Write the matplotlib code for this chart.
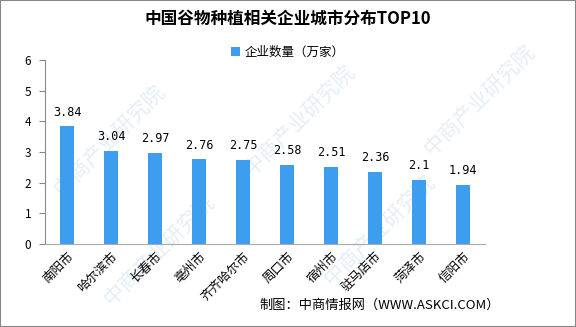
import matplotlib
matplotlib.use("Agg")
import matplotlib.pyplot as plt
from matplotlib.patches import Rectangle

plt.rcParams['font.family'] = ['Noto Sans CJK SC', 'DejaVu Sans']

cities = ['南阳市', '哈尔滨市', '长春市', '亳州市', '齐齐哈尔市',
          '周口市', '宿州市', '驻马店市', '菏泽市', '信阳市']
counts = [3.84, 3.04, 2.97, 2.76, 2.75, 2.58, 2.51, 2.36, 2.1, 1.94]
value_labels = ['3.84', '3.04', '2.97', '2.76', '2.75', '2.58', '2.51', '2.36', '2.1', '1.94']

fig = plt.figure(figsize=(5.76, 3.27), dpi=100)
W, H = 576, 327
ax = fig.add_axes([45 / W, 1 - 244 / H, 440 / W, 184 / H])

# watermarks, behind everything
for (x, y) in [(110, 140), (300, 120), (480, 100), (160, 250), (380, 230)]:
    fig.text(x / W, 1 - y / H, '中商产业研究院', fontsize=15, color='#e3eef8',
             rotation=45, ha='center', va='center', zorder=-5)

pos = range(len(cities))
bars = ax.bar(pos, counts, width=0.34, color='#3d9ef0', zorder=2,
              label='企业数量（万家）')
for i, v in enumerate(counts):
    ax.text(i, v + 0.25, value_labels[i], ha='center', va='bottom', fontsize=8.5,
            family='DejaVu Sans Mono')

ax.set_xlim(-0.5, len(cities) - 0.5)
ax.set_ylim(0, 6)
ax.set_yticks(range(7))
ax.tick_params(axis='y', labelsize=8.5, length=4, color='#888888', pad=6)
ax.tick_params(axis='x', length=0, pad=4)
ax.set_xticks(list(pos))
ax.set_xticklabels(cities, rotation=45, ha='right', rotation_mode='anchor', fontsize=9)
for s in ['top', 'right']:
    ax.spines[s].set_visible(False)
ax.spines['left'].set_color('#888888')
ax.spines['bottom'].set_color('#aaaaaa')
ax.patch.set_alpha(0)

fig.text(0.5, 1 - 19 / H, '中国谷物种植相关企业城市分布TOP10', ha='center', va='center',
         fontsize=12, fontweight='bold')
ax.legend(loc='center', bbox_to_anchor=(0.5, 1 - 52 / H), bbox_transform=fig.transFigure,
          frameon=False, fontsize=9, handlelength=0.7, handleheight=0.7, handletextpad=0.4)

fig.text(500 / W, 1 - 305 / H, '制图：中商情报网（WWW.ASKCI.COM）', ha='right', va='center',
         fontsize=9.5)

fig.patches.append(Rectangle((0, 0), 1, 1, transform=fig.transFigure, fill=False,
                             edgecolor='#888888', linewidth=1.5))

fig.savefig('out.png', dpi=100)
